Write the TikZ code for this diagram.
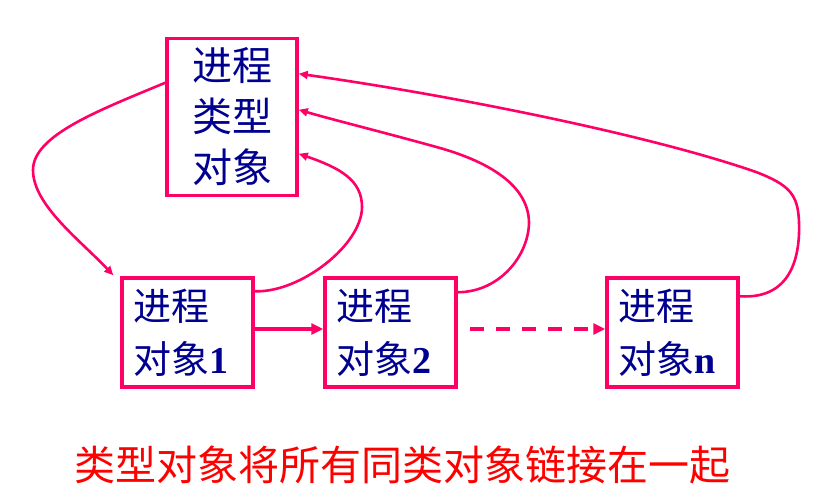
\documentclass[tikz,border=0pt]{standalone}
\usepackage{fontspec}
\setmainfont{Liberation Serif}
\newfontfamily\cjk{Noto Sans CJK SC}
\usetikzlibrary{arrows.meta}
\definecolor{lnk}{HTML}{FF0066}
\definecolor{navy}{HTML}{000090}
\definecolor{redtxt}{HTML}{FF0000}
\tikzset{
  objbox/.style={draw=lnk, line width=3.5pt, fill=white, minimum width=131pt, minimum height=109pt,
    text width=109pt, inner xsep=11pt, align=left, text=navy,
    font=\cjk\fontsize{38}{53}\selectfont},
  typebox/.style={draw=lnk, line width=3.5pt, minimum width=130pt, minimum height=157pt,
    align=center, text=navy, font=\cjk\fontsize{40}{51}\selectfont},
  link/.style={draw=lnk, line width=2.6pt, -{Triangle[length=9pt,width=8pt]}}
}
\begin{document}
\begin{tikzpicture}[x=1pt,y=-1pt]
\useasboundingbox (0,0) rectangle (824,501);
\node[typebox] (T) at (232,117) {进程\\类型\\对象};
\node[objbox] (B1) at (187.5,332.5) {\raisebox{3pt}{进程}\\\raisebox{3pt}{对象{\rmfamily\bfseries 1}}};
\node[objbox] (B2) at (390.5,332.5) {\raisebox{3pt}{进程}\\\raisebox{3pt}{对象{\rmfamily\bfseries 2}}};
\node[objbox] (Bn) at (672.5,332.5) {\raisebox{3pt}{进程}\\\raisebox{3pt}{对象{\rmfamily\bfseries n}}};
\node[text=redtxt, font=\cjk\fontsize{41}{44}\selectfont] (cap) at (402,465) {类型对象将所有同类对象链接在一起};
% chain arrows
\draw[draw=lnk, line width=3.5pt, -{Triangle[length=12pt,width=11pt]}] (B1.east |- 0,329) -- (B2.west |- 0,329);
\draw[draw=lnk, line width=3.5pt, dash pattern=on 14pt off 12pt, -{Triangle[length=12pt,width=11pt]}] ([xshift=12pt]B2.east |- 0,329) -- (Bn.west |- 0,329);
% type object to first object
\draw[link] ([yshift=-46pt]T.north west) .. controls (100,110) and (33,135) .. (33,170)
  .. controls (33,205) and (80,240) .. ([xshift=-7pt,yshift=1pt]B1.north west);
% back links
\draw[link] ([yshift=-15pt]B1.north east) .. controls (300,293) and (362,245) .. (362,207)
  .. controls (362,180) and (340,168) .. ([yshift=-117pt]T.north east);
\draw[link] ([yshift=-16pt]B2.north east) .. controls (500,292) and (529,255) .. (529,222)
  .. controls (528,182) and (482,160) .. (440,148) .. controls (390,134) and (330,119) .. ([yshift=-73pt]T.north east);
\draw[link] ([yshift=-20pt]Bn.north east) .. controls (795,300) and (800,250) .. (799,222)
  .. controls (798,195) and (790,185) .. (756,172) .. controls (650,135) and (450,95) .. ([yshift=-37pt]T.north east);
\end{tikzpicture}
\end{document}
